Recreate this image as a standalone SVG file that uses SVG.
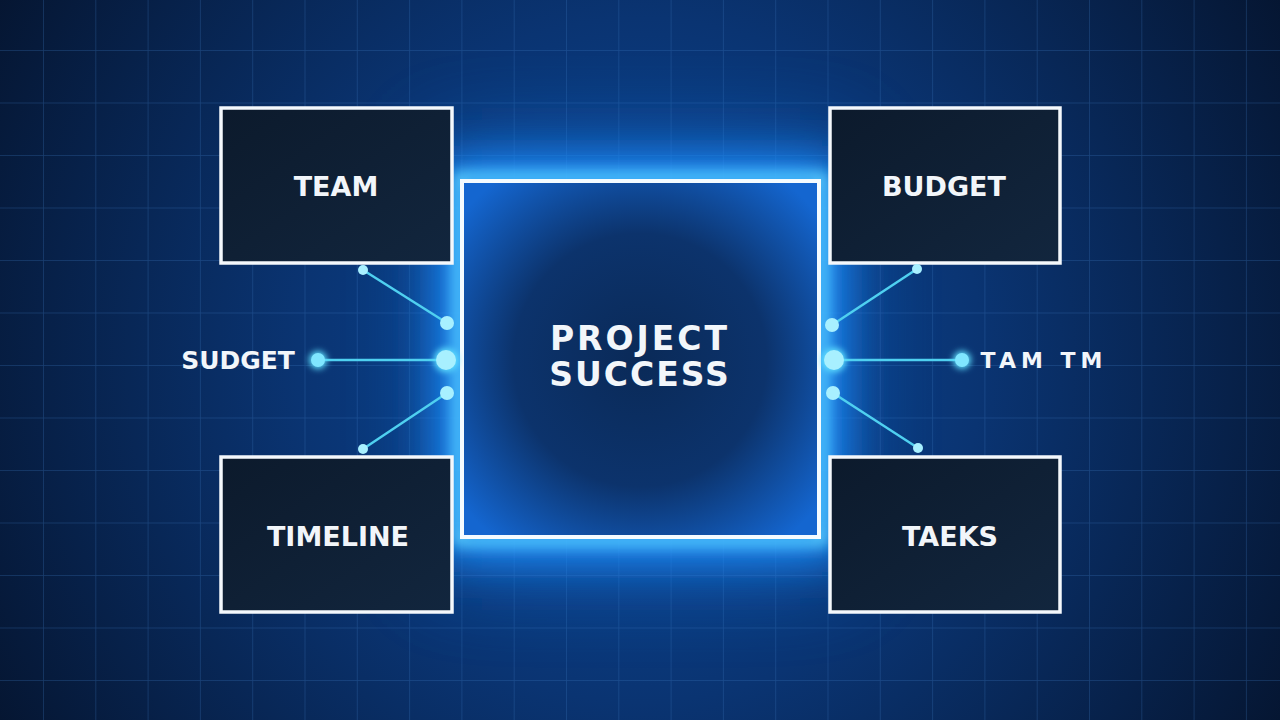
<svg xmlns="http://www.w3.org/2000/svg" width="1280" height="720" viewBox="0 0 1280 720">
<defs>
<radialGradient id="bg" cx="640" cy="360" r="760" gradientUnits="userSpaceOnUse">
<stop offset="0" stop-color="#0b4a9c"/>
<stop offset="0.45" stop-color="#0a3472"/>
<stop offset="1" stop-color="#05142e"/>
</radialGradient>
<radialGradient id="inner" cx="640" cy="360" r="230" gradientUnits="userSpaceOnUse">
<stop offset="0" stop-color="#0a2a58"/>
<stop offset="0.55" stop-color="#0c336c"/>
<stop offset="1" stop-color="#1466d0"/>
</radialGradient>
<linearGradient id="box" x1="0" y1="0" x2="1" y2="1">
<stop offset="0" stop-color="#0c1a2c"/>
<stop offset="1" stop-color="#12263e"/>
</linearGradient>
<pattern id="grid" x="43" y="50" width="52.3" height="52.5" patternUnits="userSpaceOnUse">
<path d="M0 0V52.5M0 0H52.3" fill="none" stroke="#3b78c0" stroke-opacity="0.35" stroke-width="1.5"/>
</pattern>
<filter id="halo" x="-60%" y="-60%" width="220%" height="220%">
<feGaussianBlur stdDeviation="45"/>
</filter>
<filter id="glow" x="-40%" y="-40%" width="180%" height="180%">
<feGaussianBlur stdDeviation="22"/>
</filter>
<filter id="glow2" x="-20%" y="-20%" width="140%" height="140%">
<feGaussianBlur stdDeviation="7"/>
</filter>
<filter id="soft" x="-50%" y="-50%" width="200%" height="200%">
<feGaussianBlur stdDeviation="3"/>
</filter>
</defs>
<style>
.lbl{font-family:"DejaVu Sans","Liberation Sans",sans-serif;font-weight:700;fill:#f2f6fa;text-anchor:middle}
.box{fill:url(#box);stroke:#f4f8fc;stroke-width:3.5}
.ln{stroke:#4fd0f0;stroke-width:2.5;fill:none}
.dot{fill:#a8f0ff}
</style>
<rect width="1280" height="720" fill="url(#bg)"/>
<rect width="1280" height="720" fill="url(#grid)"/>
<g id="center">
<rect x="440" y="150" width="402" height="418" fill="#1a7ae8" opacity="0.6" filter="url(#halo)"/>
<rect x="440" y="160" width="402" height="398" fill="#1e90ff" opacity="0.95" filter="url(#glow)"/>
<rect x="458" y="177" width="365" height="364" fill="none" stroke="#5fd4ff" stroke-width="10" filter="url(#glow2)"/>
<rect x="462" y="181" width="357" height="356" fill="url(#inner)" stroke="#f4fbff" stroke-width="4"/>
<text class="lbl" x="640" y="350" font-size="33" letter-spacing="3">PROJECT</text>
<text class="lbl" x="640" y="386" font-size="33" letter-spacing="2">SUCCESS</text>
</g>
<g id="team"><rect class="box" x="221" y="108" width="231" height="155"/><text class="lbl" x="336" y="196" font-size="27">TEAM</text></g>
<g id="budget"><rect class="box" x="830" y="108" width="230" height="155"/><text class="lbl" x="944" y="196" font-size="27">BUDGET</text></g>
<g id="timeline"><rect class="box" x="221" y="457" width="231" height="155"/><text class="lbl" x="338" y="546" font-size="27">TIMELINE</text></g>
<g id="tasks"><rect class="box" x="830" y="457" width="230" height="155"/><text class="lbl" x="950" y="546" font-size="27">TAEKS</text></g>
<g id="connectors">
<line class="ln" x1="363" y1="270" x2="447" y2="323"/>
<line class="ln" x1="318" y1="360" x2="446" y2="360" stroke-width="3"/>
<line class="ln" x1="447" y1="393" x2="363" y2="449"/>
<line class="ln" x1="917" y1="269" x2="832" y2="325"/>
<line class="ln" x1="834" y1="360" x2="962" y2="360" stroke-width="3"/>
<line class="ln" x1="833" y1="393" x2="918" y2="448"/>
<g fill="#5fe0ff" filter="url(#soft)">
<circle cx="446" cy="360" r="12"/><circle cx="834" cy="360" r="12"/><circle cx="318" cy="360" r="9"/><circle cx="962" cy="360" r="9"/>
</g>
<circle class="dot" cx="363" cy="270" r="5"/>
<circle class="dot" cx="447" cy="323" r="7"/>
<circle class="dot" cx="446" cy="360" r="10"/>
<circle class="dot" cx="447" cy="393" r="7"/>
<circle class="dot" cx="363" cy="449" r="5"/>
<circle cx="318" cy="360" r="7" fill="#7fe6ff"/>
<circle class="dot" cx="917" cy="269" r="5"/>
<circle class="dot" cx="832" cy="325" r="7"/>
<circle class="dot" cx="834" cy="360" r="10"/>
<circle class="dot" cx="833" cy="393" r="7"/>
<circle class="dot" cx="918" cy="448" r="5"/>
<circle cx="962" cy="360" r="7" fill="#7fe6ff"/>
</g>
<g id="side-labels">
<text class="lbl" x="238" y="369" font-size="25">SUDGET</text>
<text class="lbl" x="1044" y="368" font-size="22" letter-spacing="5">TAM TM</text>
</g>
</svg>
